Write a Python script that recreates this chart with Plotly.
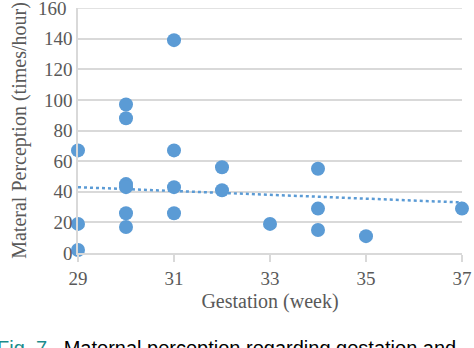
import plotly.graph_objects as go

gestation = [29, 29, 29, 30, 30, 30, 30, 30, 30, 31, 31, 31, 31, 32, 32, 33, 34, 34, 34, 35, 37]
perception = [67, 19, 2, 97, 88, 45, 43, 26, 17, 139, 67, 43, 26, 56, 41, 19, 55, 29, 15, 11, 29]
trend_x = [29, 37]
trend_y = [43, 33]
x_ticks = [29, 31, 33, 35, 37]
y_ticks = [0, 20, 40, 60, 80, 100, 120, 140, 160]

blue = "#5B9BD5"
grey = "#595959"
light = "#D9D9D9"

fig = go.Figure()
fig.add_trace(go.Scatter(x=trend_x, y=trend_y, mode="lines",
                         line=dict(color=blue, width=2.5, dash="dot"),
                         hoverinfo="skip", showlegend=False))
fig.add_trace(go.Scatter(x=gestation, y=perception, mode="markers",
                         marker=dict(color=blue, size=14, line=dict(width=0)),
                         cliponaxis=False, showlegend=False))

serif = "Liberation Serif, Times New Roman, serif"
fig.update_layout(
    width=474, height=348,
    margin=dict(l=78, r=12, t=8, b=95, autoexpand=False),
    paper_bgcolor="white", plot_bgcolor="white",
    font=dict(family=serif, color=grey, size=19),
    xaxis=dict(range=[x_ticks[0], x_ticks[-1]], tickvals=x_ticks, showgrid=False, zeroline=False,
               showline=True, linecolor=light, linewidth=1.5, automargin=False,
               ticks="outside", ticklen=7, tickcolor=light, tickwidth=1.5,
               tickfont=dict(size=19, family=serif, color=grey),
               title=dict(text="Gestation (week)", font=dict(size=20, family=serif, color=grey), standoff=6)),
    yaxis=dict(range=[y_ticks[0], y_ticks[-1]], tickvals=y_ticks, showgrid=True,
               gridcolor=light, gridwidth=1.5, automargin=False,
               zeroline=False, showline=True, linecolor=light, linewidth=1.5,
               ticks="", tickfont=dict(size=19, family=serif, color=grey),
               title=dict(text="Materal Perception (times/hour)", font=dict(size=20, family=serif, color=grey), standoff=12)),
)
# top gridline and its label (Plotly drops the edge tick when it touches the page top)
fig.add_shape(type="line", xref="paper", x0=0, x1=1, yref="y", y0=y_ticks[-1], y1=y_ticks[-1],
              line=dict(color=light, width=1.5), layer="below")
fig.add_annotation(xref="paper", x=0, yref="y", y=y_ticks[-1], xanchor="right", yanchor="middle",
                   xshift=-9, showarrow=False, text=str(y_ticks[-1]),
                   font=dict(size=19, family=serif, color=grey))
fig.add_annotation(xref="paper", yref="paper", x=-0.216, y=-0.335, xanchor="left", yanchor="top",
                   showarrow=False, align="left",
                   text="<span style='color:#1A8C8C'>Fig. 7</span>&nbsp;&nbsp; Maternal perception regarding gestation and",
                   font=dict(family="Liberation Sans, Arial, sans-serif", size=20, color="black"))
fig.write_html("out.html")
